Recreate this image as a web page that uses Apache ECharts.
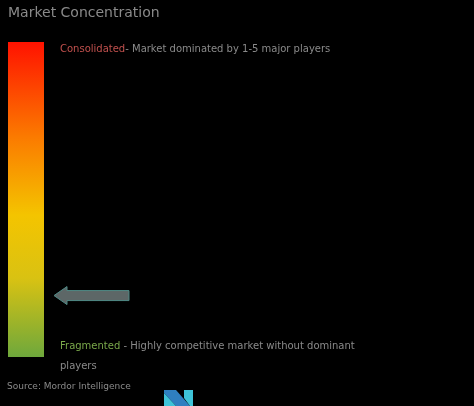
<!DOCTYPE html>
<html>
<head>
<meta charset="utf-8">
<script src="https://cdn.jsdelivr.net/npm/echarts@6/dist/echarts.min.js"></script>
<style>html,body{margin:0;background:#000;}#c{width:474px;height:406px;}</style>
</head>
<body>
<div id="c"></div>
<script>
// scale runs from fragmented (0) to consolidated (100)
const scaleCategories = ["Market"];
const scaleValues = [100];
const marketPosition = 19.5;
const titleText = "Market Concentration";
const topLabel = ["Consolidated", "- Market dominated by 1-5 major players"];
const bottomLabel = ["Fragmented", " - Highly competitive market without dominant", "players"];
const sourceText = "Source: Mordor Intelligence";

const chart = echarts.init(document.getElementById("c"));
const font = "DejaVu Sans";

chart.setOption({
    backgroundColor: "#000",
    animation: false,
    grid: { left: 8, top: 42, width: 36, bottom: 49 },
    xAxis: { type: "category", data: scaleCategories, show: false },
    yAxis: { type: "value", min: 0, max: 100, show: false },
    series: [
        {
            type: "bar",
            data: scaleValues,
            barWidth: "100%",
            itemStyle: {
                color: new echarts.graphic.LinearGradient(0, 0, 0, 1, [
                    { offset: 0, color: "#ff1200" },
                    { offset: 0.3, color: "#fb7a00" },
                    { offset: 0.55, color: "#f4c400" },
                    { offset: 0.75, color: "#d9c212" },
                    { offset: 1, color: "#6ea83c" },
                ]),
            },
        },
    ],
});

// arrow pointing at the market's position on the scale
const y = chart.convertToPixel({ gridIndex: 0 }, [0, marketPosition])[1];

chart.setOption({
    graphic: [
        { type: "text", left: 8, top: 6, style: { text: titleText, fill: "#8a8a8a", font: "14px " + font } },
        {
            type: "text", left: 60, top: 44,
            style: {
                text: "{a|" + topLabel[0] + "}{b|" + topLabel[1] + "}",
                rich: {
                    a: { fill: "#c0504d", font: "10px " + font },
                    b: { fill: "#8a8a8a", font: "10px " + font },
                },
            },
        },
        {
            type: "text", left: 60, top: 341,
            style: {
                text: "{a|" + bottomLabel[0] + "}{b|" + bottomLabel[1] + "}",
                rich: {
                    a: { fill: "#7aa84a", font: "10px " + font },
                    b: { fill: "#8a8a8a", font: "10px " + font },
                },
            },
        },
        { type: "text", left: 60, top: 361, style: { text: bottomLabel[2], fill: "#8a8a8a", font: "10px " + font } },
        { type: "text", left: 7, top: 382, style: { text: sourceText, fill: "#8a8a8a", font: "9px " + font } },
        { type: "polygon", shape: { points: [[164, 390], [176, 390], [190, 406], [176, 406], [164, 393]] }, style: { fill: "#2f7fc0" } },
        { type: "polygon", shape: { points: [[164, 393], [176, 406], [164, 406]] }, style: { fill: "#3ec3d8" } },
        { type: "polygon", shape: { points: [[184, 390], [193, 390], [193, 406], [190, 406], [184, 398]] }, style: { fill: "#3ec3d8" } },
        {
            type: "polygon",
            shape: {
                points: [
                    [54, y], [67, y - 9], [67, y - 5], [129, y - 5],
                    [129, y + 5], [67, y + 5], [67, y + 9],
                ],
            },
            style: { fill: "#5d6767", stroke: "#4f8a86", lineWidth: 1 },
        },
    ],
});
</script>
</body>
</html>
